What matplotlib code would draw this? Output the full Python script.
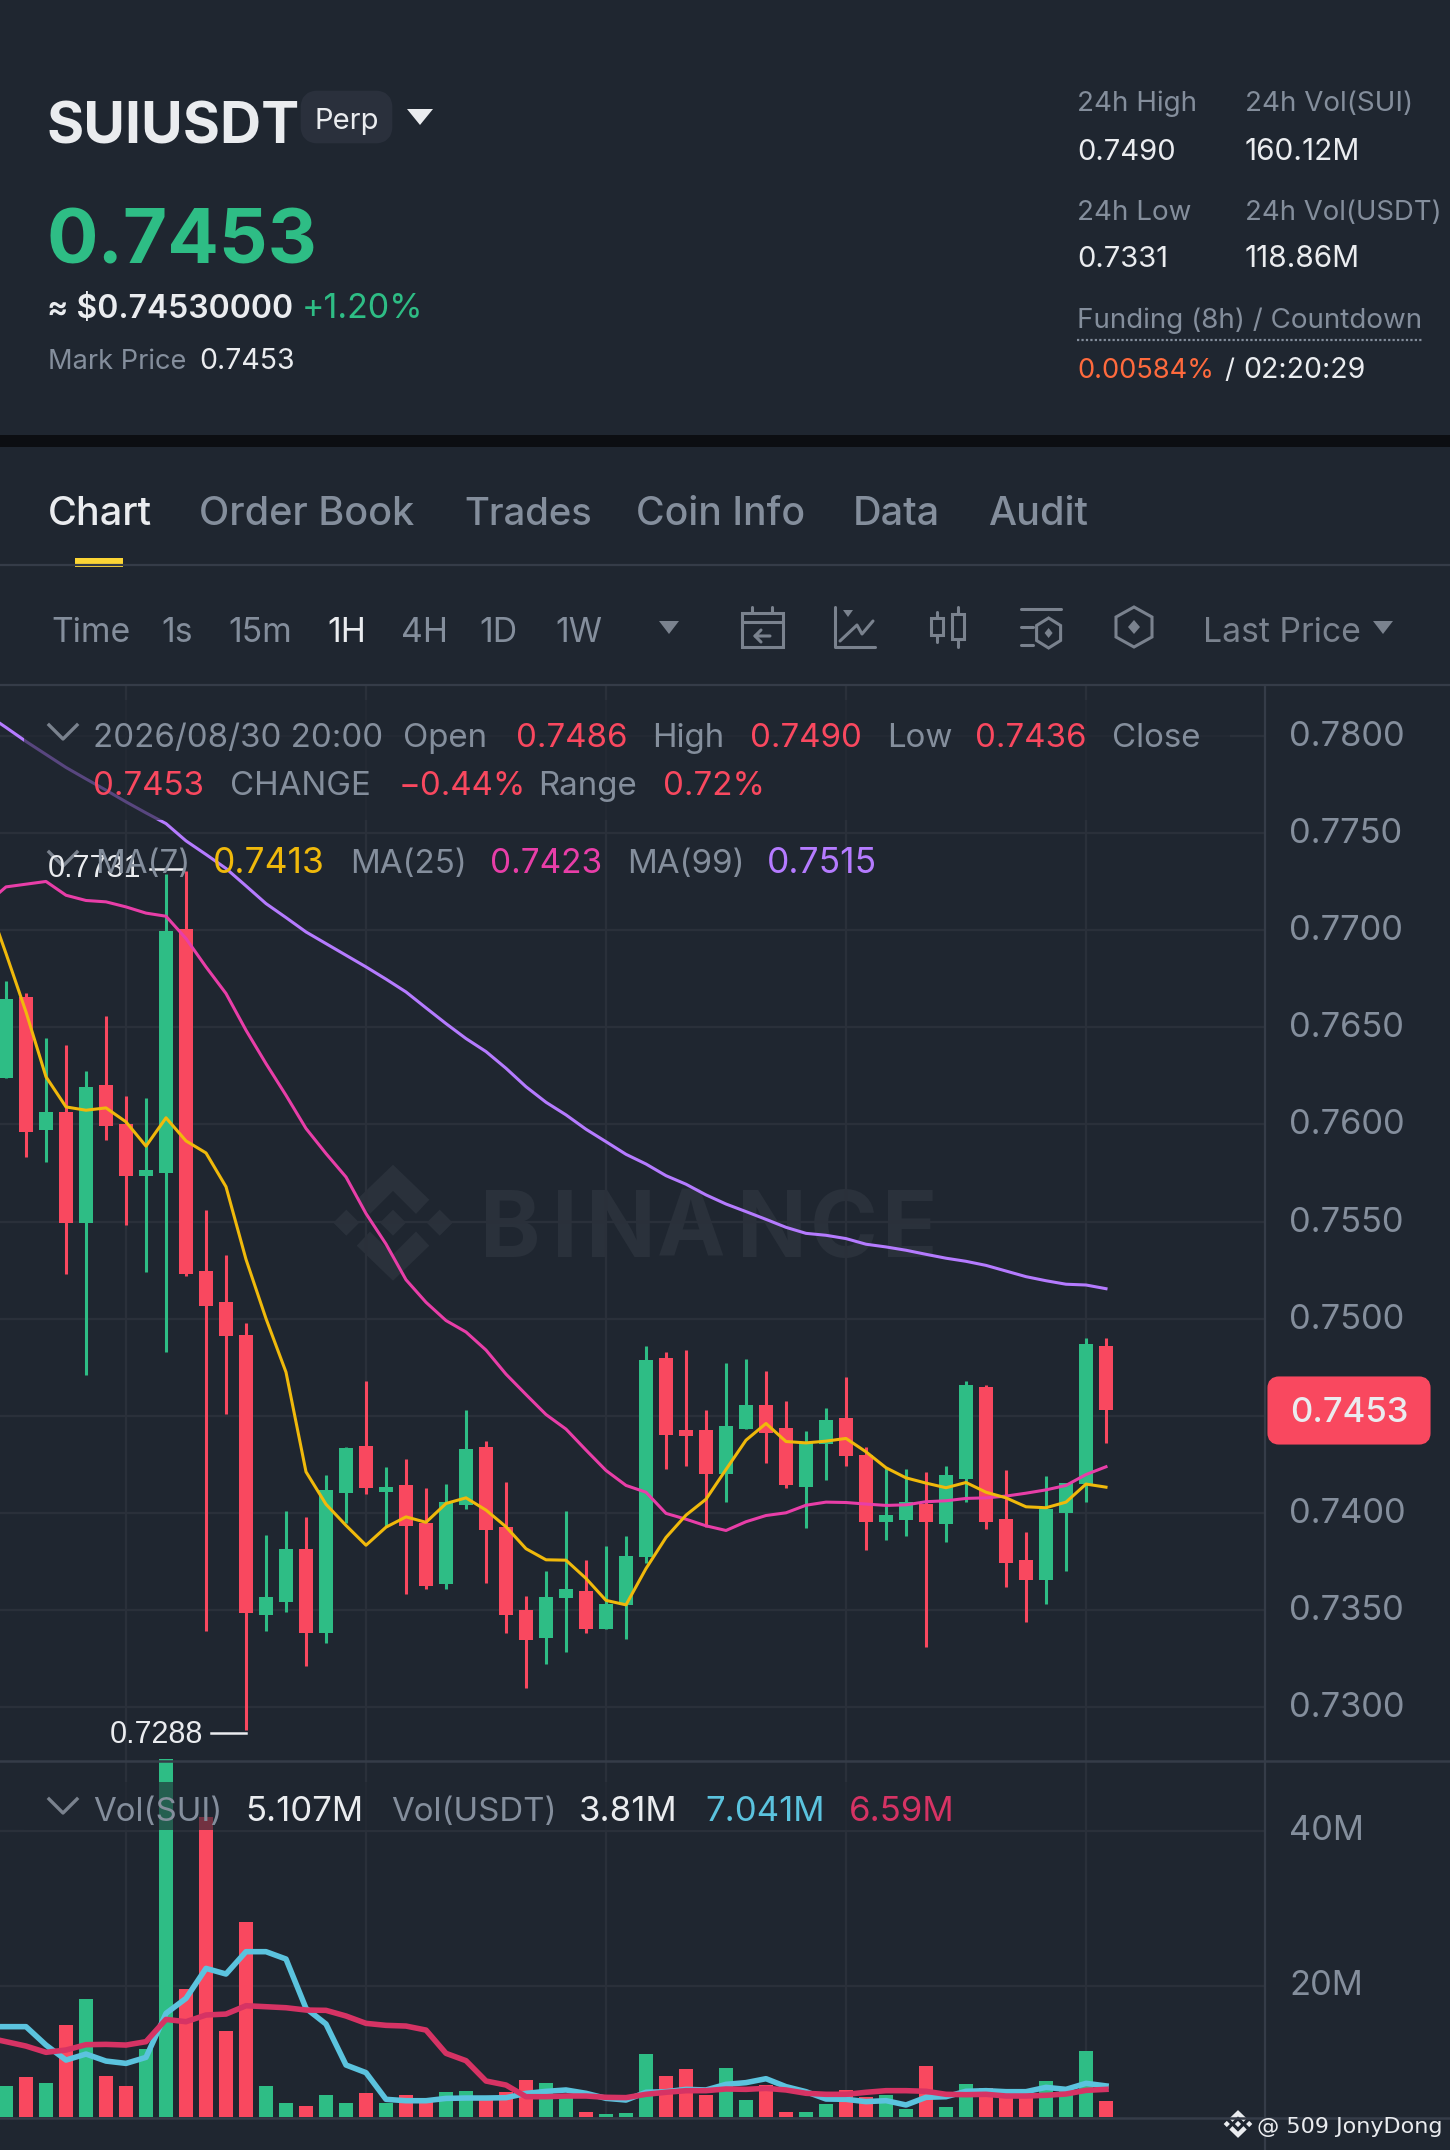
import matplotlib
matplotlib.use("Agg")
import matplotlib.pyplot as plt
from matplotlib.patches import FancyBboxPatch, Polygon, Rectangle

# Datos (velas de 1H)
opens = [0.76241, 0.76655, 0.7597, 0.76065, 0.7549, 0.76205, 0.76004, 0.75733, 0.75752, 0.77005,
         0.75244, 0.75084, 0.74915, 0.73472, 0.73541, 0.73815, 0.73382, 0.74103, 0.74345, 0.74107,
         0.74144, 0.73945, 0.73632, 0.7404, 0.74338, 0.73926, 0.73497, 0.73353, 0.73562, 0.73597,
         0.73401, 0.73523, 0.73772, 0.74796, 0.74426, 0.74426, 0.74201, 0.74431, 0.74556, 0.74436,
         0.74132, 0.74352, 0.74487, 0.74297, 0.73952, 0.73962, 0.74046, 0.73942, 0.74172, 0.74647,
         0.73967, 0.73756, 0.73652, 0.74, 0.74146, 0.7486]
closes = [0.76645, 0.7596, 0.76065, 0.7549, 0.76195, 0.75992, 0.75733, 0.75764, 0.76995, 0.75232,
          0.75063, 0.74911, 0.73482, 0.73565, 0.73815, 0.73382, 0.74115, 0.74335, 0.7413, 0.74134,
          0.73932, 0.73622, 0.74056, 0.74326, 0.73912, 0.73473, 0.73343, 0.73567, 0.73607, 0.73401,
          0.73528, 0.73777, 0.74786, 0.744, 0.74395, 0.74201, 0.74446, 0.74556, 0.7441, 0.74141,
          0.74366, 0.74477, 0.74292, 0.73952, 0.73988, 0.74057, 0.73952, 0.74197, 0.74657, 0.73952,
          0.73741, 0.73652, 0.74017, 0.74156, 0.74867, 0.7453]
highs = [0.76737, 0.76677, 0.76447, 0.76408, 0.76277, 0.76557, 0.76147, 0.76138, 0.77287, 0.77307,
         0.75557, 0.75327, 0.74978, 0.73886, 0.74008, 0.73977, 0.74196, 0.74339, 0.74678, 0.74237,
         0.74278, 0.74129, 0.74146, 0.74527, 0.74369, 0.7416, 0.73571, 0.737, 0.74009, 0.73758,
         0.73828, 0.73878, 0.74858, 0.74829, 0.74838, 0.74527, 0.74769, 0.7479, 0.74728, 0.74578,
         0.74421, 0.74539, 0.74699, 0.74338, 0.74237, 0.74228, 0.74209, 0.74239, 0.7468, 0.74659,
         0.7422, 0.739, 0.74189, 0.74156, 0.74899, 0.749]
lows = [0.76241, 0.7583, 0.75807, 0.7523, 0.7471, 0.75919, 0.7548, 0.7524, 0.74828, 0.7522,
        0.73392, 0.74509, 0.72881, 0.73392, 0.7349, 0.73212, 0.7333, 0.73945, 0.74099, 0.73926,
        0.73581, 0.7361, 0.7361, 0.7402, 0.73638, 0.7338, 0.73099, 0.73219, 0.73281, 0.7338,
        0.73401, 0.7335, 0.73739, 0.74228, 0.7424, 0.73928, 0.74058, 0.74431, 0.74259, 0.7413,
        0.73921, 0.7417, 0.7424, 0.73809, 0.73859, 0.7388, 0.73308, 0.73849, 0.74058, 0.73919,
        0.73619, 0.73439, 0.7353, 0.737, 0.74058, 0.74359]

# Medias moviles, el primer valor es la vela anterior (queda fuera por la izquierda)
ma7 = [0.77172, 0.7688, 0.76579, 0.76245, 0.7609, 0.76073, 0.76085, 0.76013, 0.75888, 0.76034,
       0.75915, 0.75853, 0.75679, 0.75305, 0.75, 0.74724, 0.74211, 0.74044, 0.73935, 0.73833,
       0.73926, 0.73979, 0.73951, 0.74048, 0.74077, 0.74014, 0.73928, 0.73815, 0.73758, 0.73756,
       0.73662, 0.73549, 0.73526, 0.73713, 0.73873, 0.73988, 0.7407, 0.74223, 0.74374, 0.7446,
       0.74367, 0.7436, 0.74369, 0.74383, 0.74314, 0.74232, 0.7418, 0.74153, 0.74129, 0.74156,
       0.74106, 0.74077, 0.74031, 0.74026, 0.74055, 0.74148, 0.74132]
ma25 = [0.77134, 0.77223, 0.77237, 0.77251, 0.7718, 0.77153, 0.77146, 0.7712, 0.77088, 0.77072,
        0.76957, 0.76811, 0.76674, 0.76485, 0.76313, 0.7615, 0.75979, 0.7585, 0.75729, 0.75541,
        0.75384, 0.752, 0.75084, 0.7499, 0.74931, 0.74838, 0.74714, 0.74609, 0.74506, 0.74431,
        0.74323, 0.74218, 0.74141, 0.74106, 0.73997, 0.73967, 0.73933, 0.73909, 0.73954, 0.73986,
        0.74, 0.74039, 0.74055, 0.74053, 0.74045, 0.74038, 0.74041, 0.74057, 0.74062, 0.74074,
        0.74077, 0.74086, 0.74101, 0.74118, 0.74141, 0.74197, 0.74237]
ma99 = [0.78114, 0.78044, 0.77972, 0.77905, 0.77838, 0.77779, 0.77721, 0.77661, 0.77604, 0.77549,
        0.7746, 0.7739, 0.77318, 0.77228, 0.77137, 0.77065, 0.76991, 0.76931, 0.76871, 0.76811,
        0.76748, 0.76682, 0.766, 0.76519, 0.76442, 0.76375, 0.76289, 0.76194, 0.76114, 0.76049,
        0.75975, 0.75911, 0.75846, 0.75796, 0.75736, 0.75692, 0.75637, 0.7559, 0.75551, 0.75511,
        0.7547, 0.75439, 0.75429, 0.75412, 0.75383, 0.75369, 0.75352, 0.75331, 0.75311, 0.75295,
        0.75274, 0.75245, 0.75216, 0.75195, 0.75177, 0.75173, 0.75154]

# Volumen en millones
vols = [6.98, 8.14, 7.37, 14.91, 18.28, 8.31, 7.02, 11.81, 49.28, 19.57,
        41.86, 14.14, 28.28, 7.06, 4.78, 4.39, 5.81, 4.78, 6.16, 4.86,
        5.81, 4.99, 6.2, 6.37, 5.47, 6.29, 7.75, 7.45, 5.64, 3.62,
        3.45, 3.57, 11.12, 8.32, 9.18, 5.86, 9.35, 5.21, 7.15, 3.62,
        3.62, 4.74, 6.46, 5.64, 5.86, 4.05, 9.61, 4.35, 7.24, 6.81,
        5.64, 5.43, 7.67, 6.85, 11.55, 5.107]
vol_ma_a = [14.7, 14.7, 14.7, 12.32, 10.38, 11.16, 10.25, 9.95, 10.73, 16.42,
            18.36, 22.24, 21.51, 24.4, 24.4, 23.45, 17.07, 15.04, 9.74, 8.75,
            5.3, 5.12, 5.12, 5.42, 5.47, 5.47, 5.51, 6.07, 6.33, 6.51,
            6.08, 5.43, 5.21, 6.21, 6.29, 6.59, 6.51, 7.24, 7.46, 7.97,
            6.94, 6.29, 5.34, 5.3, 5.0, 5.13, 4.57, 5.56, 5.64, 6.34,
            6.42, 6.29, 6.29, 6.85, 6.59, 7.37, 7.04]
vol_ma_b = [13.32, 12.76, 12.19, 11.38, 11.68, 12.37, 12.41, 12.32, 12.76, 15.64,
            15.34, 16.21, 16.33, 17.41, 17.28, 17.15, 16.85, 16.81, 16.08, 15.13,
            14.87, 14.78, 14.26, 11.25, 10.3, 7.67, 7.15, 5.64, 5.64, 5.73,
            5.73, 5.56, 5.52, 5.95, 6.21, 6.42, 6.42, 6.64, 6.59, 6.72,
            6.51, 6.08, 5.95, 5.95, 6.21, 6.42, 6.42, 6.34, 5.95, 5.9,
            5.95, 5.73, 5.73, 5.82, 5.99, 6.46, 6.59]

price_ticks = [0.78, 0.775, 0.77, 0.765, 0.76, 0.755, 0.75, 0.745, 0.74, 0.735, 0.73]
# 0.7450 queda tapado por la etiqueta del ultimo precio
price_tick_labels = ["0.7800", "0.7750", "0.7700", "0.7650", "0.7600", "0.7550", "0.7500", "",
                     "0.7400", "0.7350", "0.7300"]
vol_ticks = [20, 40]
grid_idx = [6, 18, 30, 42, 54]
marca_letras = ["B", "I", "N", "A", "N", "C", "E"]

W, H = 1450, 2150
FONT = "Inter"
BG = "#1f2630"
GRID = "#2a303a"
LINE = "#353c48"
GREY = "#848e9c"
DIM = "#7a828e"
WHITE = "#eaecef"
GREEN = "#2ebd85"
RED = "#f9485f"
ORANGE = "#f0b90b"
MAGENTA = "#e83ea8"
PURPLE = "#b57bff"
CYAN = "#5bc3de"
CRIMSON = "#d63364"


def px_axes(fig, x0, y0, x1, y1, zorder):
    ax = fig.add_axes([x0 / W, 1 - y1 / H, (x1 - x0) / W, (y1 - y0) / H], zorder=zorder)
    ax.patch.set_alpha(0)
    for s in ax.spines.values():
        s.set_visible(False)
    ax.set_xticks([])
    ax.set_yticks([])
    return ax


def binance_logo(ax, cx, cy, s, color):
    """Logo de cuatro rombos y dos chevrones, centrado en (cx, cy)."""
    top = [(0, -58), (36.3, -23), (23, -8.8), (0, -31.8), (-23, -8.8), (-36.3, -23)]
    for sign in (1, -1):
        ax.add_patch(Polygon([(cx + s * a, cy + sign * s * b) for a, b in top], color=color, lw=0))
    for dx in (-46.7, 0, 46.7):
        pts = [(cx + s * (dx - 13), cy), (cx + s * dx, cy - s * 13),
               (cx + s * (dx + 13), cy), (cx + s * dx, cy + s * 13)]
        ax.add_patch(Polygon(pts, color=color, lw=0))


def dibujar_fondo(ax):
    ax.add_patch(Rectangle((0, 0), W, H, color=BG, lw=0))
    ax.add_patch(Rectangle((0, 435), W, 12, color="#0c0e12", lw=0))
    binance_logo(ax, 393, 1222.7, 1, "#2a313b")
    for x, letra in zip([480, 552, 586, 657, 737, 810, 882], marca_letras):
        ax.text(x, 1257, letra, color="#2a313b", fontsize=66, fontweight="bold",
                family=FONT, va="baseline")


def dibujar_precio(ax):
    xs = range(len(closes))
    for i in xs:
        color = GREEN if closes[i] >= opens[i] else RED
        ax.vlines(i, lows[i], highs[i], color=color, lw=2.2, zorder=3)
        ax.bar(i, abs(closes[i] - opens[i]), bottom=min(opens[i], closes[i]), width=0.7,
               color=color, zorder=3)
    xs_ma = range(-1, len(closes))
    ax.plot(xs_ma, ma99, color=PURPLE, lw=2.2, zorder=4)
    ax.plot(xs_ma, ma25, color=MAGENTA, lw=2.2, zorder=4)
    ax.plot(xs_ma, ma7, color=ORANGE, lw=2.2, zorder=5)
    ax.hlines(price_ticks, -0.3, 62.95, color=GRID, lw=1.6, zorder=1)
    ax.vlines(grid_idx, 0.7, 0.79, color=GRID, lw=1.6, zorder=1)
    ax.set_xlim(-0.3, 62.95)
    ax.set_ylim(0.78 - 1025 / 19420, 0.78 + 50 / 19420)


def dibujar_volumen(ax):
    base = 3.0
    for i, v in enumerate(vols):
        color = GREEN if closes[i] >= opens[i] else RED
        ax.bar(i, v - base, bottom=base, width=0.7, color=color, zorder=3)
    xs_ma = range(-1, len(vols))
    ax.plot(xs_ma, vol_ma_a, color=CYAN, lw=4.0, zorder=4)
    ax.plot(xs_ma, vol_ma_b, color=CRIMSON, lw=4.0, zorder=5)
    ax.hlines(vol_ticks, -0.3, 62.95, color=GRID, lw=1.6, zorder=1)
    ax.vlines(grid_idx, base, 49, color=GRID, lw=1.6, zorder=1)
    ax.set_xlim(-0.3, 62.95)
    ax.set_ylim(20 - 164.3 / 7.73, 20 + 235.7 / 7.73)


def hexa(ax, cx, cy, w, h, dw, dh):
    pts = [(cx, cy - h), (cx + w, cy - h * 0.5), (cx + w, cy + h * 0.5),
           (cx, cy + h), (cx - w, cy + h * 0.5), (cx - w, cy - h * 0.5)]
    ax.add_patch(Polygon(pts, fill=False, ec=DIM, lw=2.2))
    ax.add_patch(Polygon([(cx, cy - dh), (cx + dw, cy), (cx, cy + dh), (cx - dw, cy)],
                         color=DIM, lw=0))


def dibujar_iconos(ax):
    kw = dict(color=DIM, lw=2.2, solid_capstyle="round")
    # calendario
    ax.add_patch(Rectangle((742, 613), 41, 34, fill=False, ec=DIM, lw=2.2))
    ax.plot([742, 783], [622, 622], **kw)
    ax.plot([752, 752], [607, 613], **kw)
    ax.plot([772, 772], [607, 613], **kw)
    ax.plot([770, 755, 761], [636, 636, 630], **kw)
    ax.plot([755, 761], [636, 642], **kw)
    # grafico de lineas
    ax.plot([835, 835, 875], [607, 647, 647], **kw)
    ax.plot([840, 857, 862, 873], [641, 625, 634, 621], **kw)
    ax.add_patch(Polygon([(843, 610), (853, 610), (848, 617)], color=DIM, lw=0))
    # velas
    ax.add_patch(Rectangle((931, 618), 12, 17, fill=False, ec=DIM, lw=2.2))
    ax.add_patch(Rectangle((952, 614), 12, 25, fill=False, ec=DIM, lw=2.2))
    ax.plot([937, 937], [612, 618], **kw)
    ax.plot([937, 937], [635, 642], **kw)
    ax.plot([958, 958], [607, 614], **kw)
    ax.plot([958, 958], [639, 647], **kw)
    # ajustes
    ax.plot([1021, 1061], [609, 609], **kw)
    ax.plot([1021, 1033], [627, 627], **kw)
    ax.plot([1021, 1033], [645, 645], **kw)
    hexa(ax, 1048.6, 633, 12, 15, 4, 5)
    hexa(ax, 1134, 627, 18, 20, 6, 7)


def triangulo(ax, x0, x1, y0, y1, color):
    ax.add_patch(Polygon([(x0, y0), (x1, y0), ((x0 + x1) / 2, y1)], color=color, lw=0))


def chevron(ax, y):
    ax.plot([49, 63, 77], [y, y + 14, y], color=DIM, lw=2.4)


def dibujar_textos(ax):
    def t(x, y, s, color=GREY, size=22, weight="normal", ha="left", family=FONT):
        ax.text(x, y, s, color=color, fontsize=size, fontweight=weight, ha=ha,
                va="baseline", family=family)

    # cabecera izquierda
    t(47, 144, "SUIUSDT", WHITE, 41, "bold")
    ax.add_patch(FancyBboxPatch((309, 99), 75, 36, boxstyle="round,pad=0,rounding_size=8",
                                mutation_aspect=1, fc="#2a303c", ec="#2a303c", lw=12, joinstyle="round"))
    t(347, 129, "Perp", WHITE, 21, ha="center")
    triangulo(ax, 407, 433, 109, 125, WHITE)
    t(47, 264, "0.7453", GREEN, 55, "bold")
    t(47, 318, "≈ $0.74530000", WHITE, 23, "semibold")
    t(302, 318, "+1.20%", GREEN, 24.5)
    t(48, 369, "Mark Price", GREY, 19.6)
    t(199, 369, "0.7453", WHITE, 20.5)

    # cabecera derecha
    t(1077, 111, "24h High", GREY, 20)
    t(1245, 111, "24h Vol(SUI)", GREY, 20)
    t(1077, 160, "0.7490", WHITE, 21)
    t(1245, 160, "160.12M", WHITE, 21.5)
    t(1077, 220, "24h Low", GREY, 20)
    t(1245, 220, "24h Vol(USDT)", GREY, 19.8)
    t(1077, 267, "0.7331", WHITE, 21)
    t(1245, 267, "118.86M", WHITE, 21.5)
    t(1077, 328, "Funding (8h) / Countdown", GREY, 20)
    ax.plot([1077, 1422], [340, 340], color=GREY, lw=1.6, ls=(0, (1, 1)))
    t(1077, 378, "0.00584%", "#ff6a3d", 19.6)
    t(1224, 378, "/", WHITE, 20)
    t(1243, 378, "02:20:29", WHITE, 20.5)

    # pestanas
    for x, s, c, size in [(48, "Chart", WHITE, 28.5), (199, "Order Book", GREY, 28.5),
                          (464, "Trades", GREY, 27.5), (636, "Coin Info", GREY, 28.2),
                          (853, "Data", GREY, 28.5), (988, "Audit", GREY, 28.5)]:
        t(x, 525, s, c, size, "medium")
    ax.add_patch(Rectangle((75, 558), 48, 9, color="#fcd535", lw=0))
    ax.plot([0, W], [565, 565], color=LINE, lw=1.6)

    # barra de herramientas
    for x, s, c in [(51, "Time", GREY), (161, "1s", GREY), (228, "15m", GREY), (327, "1H", WHITE),
                    (401, "4H", GREY), (479, "1D", GREY), (555, "1W", GREY), (1203, "Last Price", DIM)]:
        t(x, 642, s, c, 24.3)
    triangulo(ax, 659, 679, 621, 634, DIM)
    triangulo(ax, 1373, 1393, 621, 634, DIM)
    dibujar_iconos(ax)
    ax.plot([0, W], [685, 685], color=LINE, lw=1.6)

    # separadores de paneles
    ax.plot([0, W], [1761, 1761], color=LINE, lw=1.8)
    ax.plot([0, W], [2118, 2118], color=LINE, lw=1.8)
    ax.plot([1265, 1265], [686, H], color=LINE, lw=1.6)

    # velo de las leyendas
    ax.add_patch(Rectangle((24, 700), 1206, 120, color=BG, alpha=0.62, lw=0))
    ax.add_patch(Rectangle((24, 1782), 936, 48, color=BG, alpha=0.62, lw=0))

    # leyenda OHLC
    chevron(ax, 725)
    for x, y, s, c in [(93, 747, "2026/08/30 20:00", GREY), (403, 747, "Open", GREY),
                       (516, 747, "0.7486", RED), (652, 747, "High", GREY), (750, 747, "0.7490", RED),
                       (887, 747, "Low", GREY), (975, 747, "0.7436", RED), (1112, 747, "Close", GREY),
                       (93, 795, "0.7453", RED), (230, 795, "CHANGE", GREY), (399, 795, "−0.44%", RED),
                       (538, 795, "Range", GREY), (663, 795, "0.72%", RED)]:
        t(x, y, s, c, 23.8)

    # maximo y minimo visibles
    t(48, 877, "0.7731", WHITE, 22, family="Liberation Sans")
    ax.plot([150, 183], [868.6, 868.6], color=WHITE, lw=1.8)
    t(110, 1743, "0.7288", WHITE, 22, family="Liberation Sans")
    ax.plot([211, 246], [1733, 1733], color=WHITE, lw=1.8)

    # leyenda MA
    chevron(ax, 852)
    for x, s, c, size in [(95, "MA(7)", GREY, 23.8), (213, "0.7413", ORANGE, 25.5),
                          (350, "MA(25)", GREY, 23.8), (490, "0.7423", MAGENTA, 24),
                          (627, "MA(99)", GREY, 23.8), (767, "0.7515", PURPLE, 25.5)]:
        t(x, 873, s, c, size)

    # leyenda de volumen
    chevron(ax, 1799)
    for x, s, c, size in [(93, "Vol(SUI)", GREY, 23.8), (245, "5.107M", WHITE, 25),
                          (391, "Vol(USDT)", GREY, 23.8), (579, "3.81M", WHITE, 25),
                          (705, "7.041M", CYAN, 25), (849, "6.59M", CRIMSON, 25)]:
        t(x, 1821, s, c, size)

    # eje de precios
    for p, etiqueta in zip(price_ticks, price_tick_labels):
        y = 736 + (0.78 - p) * 19420
        t(1289, y + 10, etiqueta, GREY, 24.8)
    for v in vol_ticks:
        y = 1985.7 - (v - 20) * 7.73
        t(1289, y + 9, f"{v}M", GREY, 24.8)

    # etiqueta del ultimo precio
    ax.add_patch(FancyBboxPatch((1273, 1382), 152, 57, boxstyle="round,pad=0,rounding_size=6",
                                fc=RED, ec=RED, lw=8))
    t(1349, 1422, f"{closes[-1]:.4f}", WHITE, 25, "medium", ha="center")

    # marca de agua
    binance_logo(ax, 1238, 2124, 0.24, WHITE)
    t(1257, 2133, "@ 509 JonyDong", WHITE, 16, family="DejaVu Sans")


def main():
    fig = plt.figure(figsize=(W / 100, H / 100), dpi=100, facecolor=BG)

    ax_fondo = px_axes(fig, 0, 0, W, H, 0)
    ax_fondo.set_xlim(0, W)
    ax_fondo.set_ylim(H, 0)
    dibujar_fondo(ax_fondo)

    ax_precio = px_axes(fig, 0, 686, 1265, 1761, 1)
    dibujar_precio(ax_precio)

    ax_vol = px_axes(fig, 0, 1750, 1265, 2150, 1)
    dibujar_volumen(ax_vol)

    ax_textos = px_axes(fig, 0, 0, W, H, 2)
    ax_textos.set_xlim(0, W)
    ax_textos.set_ylim(H, 0)
    dibujar_textos(ax_textos)

    fig.savefig("out.png", dpi=100, facecolor=BG)


if __name__ == "__main__":
    main()
